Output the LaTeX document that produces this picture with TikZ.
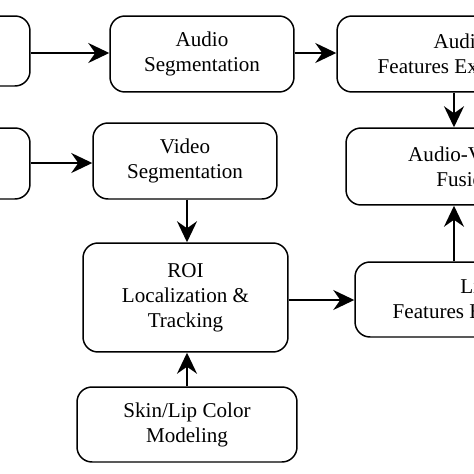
\documentclass[tikz,border=0pt]{standalone}
\usepackage{fontspec}
\setmainfont{Liberation Serif}
\usetikzlibrary{arrows.meta,calc}

\tikzset{
  block/.style={draw, rectangle, rounded corners=0.3cm, line width=0.85pt,
    align=center, inner sep=0pt, font=\fontsize{12}{14.2}\selectfont},
  flow/.style={line width=1.1pt, -{Stealth[length=0.42cm, width=0.4cm, inset=0.14cm]}}
}

\begin{document}
\begin{tikzpicture}[x=0.02cm, y=-0.02cm]
    \clip (0,0) rectangle (474,474);

    % audio branch
    \node[block, minimum width=3cm, minimum height=1.4cm] (audioin) at (-45,51) {};
    \node[block, minimum width=3.68cm, minimum height=1.52cm] (audioseg) at (202,54) {Audio\\Segmentation};
    \node[block, minimum width=4.92cm, minimum height=1.52cm] (audiofeat) at (460,54) {Audio\\Features Extraction};

    % video branch
    \node[block, minimum width=3cm, minimum height=1.42cm] (videoin) at (-45,163.5) {};
    \node[block, minimum width=3.68cm, minimum height=1.52cm] (videoseg) at (185,161) {Video\\Segmentation};
    \node[block, minimum width=4.1cm, minimum height=2.18cm] (roi) at (185.5,297.5) {ROI\\Localization \&\\Tracking};
    \node[block, minimum width=4.4cm, minimum height=1.5cm] (skin) at (187,424.5) {Skin/Lip Color\\Modeling};
    \node[block, minimum width=4.8cm, minimum height=1.5cm] (lipfeat) at (475,299.5) {Lip\\Features Extraction};

    % fusion
    \node[block, minimum width=4.76cm, minimum height=1.54cm] (fusion) at (465,166.5) {Audio-Visual\\Fusion};

    \draw[flow] (audioin.east |- 0,53) -- (audioseg.west |- 0,53);
    \draw[flow] (audioseg.east |- 0,53) -- (audiofeat.west |- 0,53);
    \draw[flow] ([xshift=-0.12cm]audiofeat.south) -- ([xshift=-0.12cm]audiofeat.south |- fusion.north);

    \draw[flow] (videoin.east |- 0,163) -- (videoseg.west |- 0,163);
    \draw[flow] ([xshift=0.04cm]videoseg.south) -- ([xshift=0.04cm]videoseg.south |- roi.north);
    \draw[flow] (roi.east |- 0,300) -- (lipfeat.west |- 0,300);
    \draw[flow] (skin.north) -- (skin.north |- roi.south);
    \draw[flow] ([xshift=-0.42cm]lipfeat.north) -- ([xshift=-0.42cm]lipfeat.north |- fusion.south);
\end{tikzpicture}
\end{document}
